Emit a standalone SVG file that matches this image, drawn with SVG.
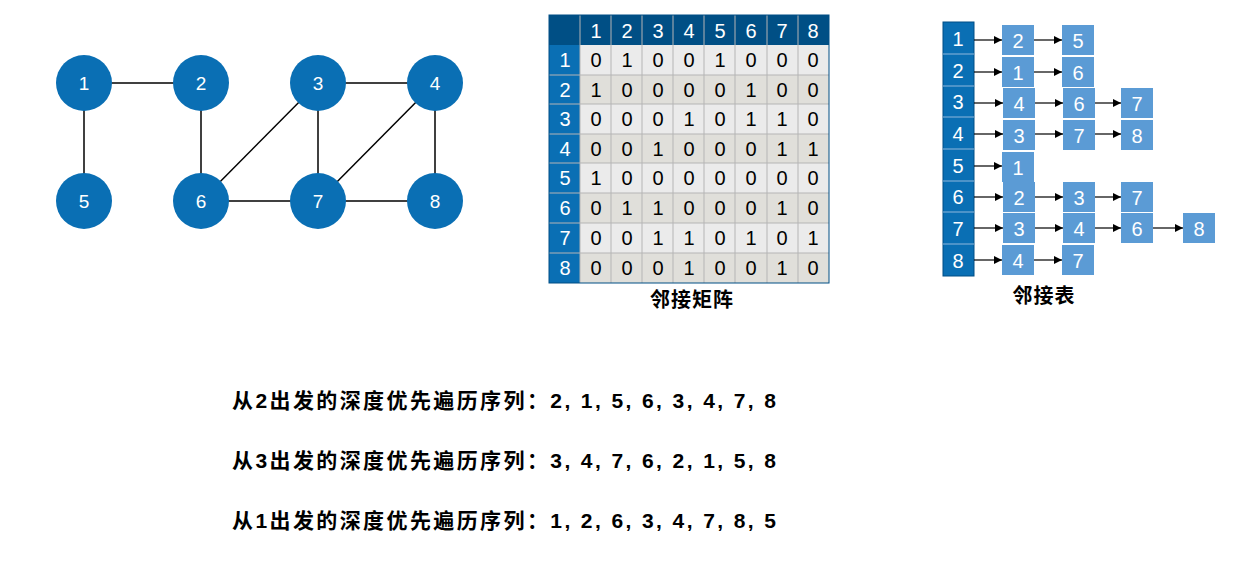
<svg xmlns="http://www.w3.org/2000/svg" width="1234" height="568" viewBox="0 0 1234 568">
<style>
.n circle{fill:#0a6fb4}
.nt{font-family:"Liberation Sans",Arial,sans-serif;font-size:19px;fill:#fff;text-anchor:middle}
.e line{stroke:#000;stroke-width:1.5}
.ct{font-family:"Liberation Sans",Arial,sans-serif;font-size:20px;fill:#000;text-anchor:middle}
.ht{font-family:"Liberation Sans",Arial,sans-serif;font-size:20px;fill:#fff;text-anchor:middle}
.cap{font-family:"Liberation Sans","Noto Sans CJK SC",sans-serif;font-size:20px;font-weight:bold;text-anchor:middle;letter-spacing:1px}
.seq{font-family:"Liberation Sans","Noto Sans CJK SC",sans-serif;font-size:21px;font-weight:bold}
.lb{fill:#5b9bd5}
.a line{stroke:#000;stroke-width:1.2;marker-end:url(#ar)}
</style>
<defs><marker id="ar" viewBox="0 0 10 10" refX="10" refY="5" markerWidth="8" markerHeight="8" markerUnits="userSpaceOnUse" orient="auto"><path d="M0,0L10,5L0,10z"/></marker></defs>
<g class="e">
<line x1="84" y1="83" x2="201" y2="83"/><line x1="84" y1="83" x2="84" y2="201"/><line x1="201" y1="83" x2="201" y2="201"/>
<line x1="318" y1="83" x2="435" y2="83"/><line x1="318" y1="83" x2="201" y2="201"/><line x1="318" y1="83" x2="318" y2="201"/>
<line x1="435" y1="83" x2="318" y2="201"/><line x1="435" y1="83" x2="435" y2="201"/><line x1="201" y1="201" x2="318" y2="201"/><line x1="318" y1="201" x2="435" y2="201"/>
</g>
<g class="n" id="n1"><circle cx="84" cy="83" r="28"/><text class="nt" x="84" y="90">1</text></g>
<g class="n" id="n2"><circle cx="201" cy="83" r="28"/><text class="nt" x="201" y="90">2</text></g>
<g class="n" id="n3"><circle cx="318" cy="83" r="28"/><text class="nt" x="318" y="90">3</text></g>
<g class="n" id="n4"><circle cx="435" cy="83" r="28"/><text class="nt" x="435" y="90">4</text></g>
<g class="n" id="n5"><circle cx="84" cy="201" r="28"/><text class="nt" x="84" y="208">5</text></g>
<g class="n" id="n6"><circle cx="201" cy="201" r="28"/><text class="nt" x="201" y="208">6</text></g>
<g class="n" id="n7"><circle cx="318" cy="201" r="28"/><text class="nt" x="318" y="208">7</text></g>
<g class="n" id="n8"><circle cx="435" cy="201" r="28"/><text class="nt" x="435" y="208">8</text></g>

<g id="matrix">
<rect x="549" y="15" width="280" height="30" fill="#004f85"/>
<rect x="549" y="45" width="31" height="238" fill="#0a6fb4"/>
<rect x="580" y="45" width="249" height="30" fill="#ebebeb"/><rect x="580" y="75" width="249" height="29" fill="#e0dfda"/>
<rect x="580" y="104" width="249" height="30" fill="#ebebeb"/><rect x="580" y="134" width="249" height="29" fill="#e0dfda"/>
<rect x="580" y="163" width="249" height="30" fill="#ebebeb"/><rect x="580" y="193" width="249" height="30" fill="#e0dfda"/>
<rect x="580" y="223" width="249" height="30" fill="#ebebeb"/><rect x="580" y="253" width="249" height="30" fill="#e0dfda"/>
<g stroke="#b5b5b5" stroke-width="1">
<line x1="611" y1="15" x2="611" y2="283"/><line x1="642" y1="15" x2="642" y2="283"/><line x1="673" y1="15" x2="673" y2="283"/><line x1="704" y1="15" x2="704" y2="283"/><line x1="735" y1="15" x2="735" y2="283"/><line x1="767" y1="15" x2="767" y2="283"/><line x1="798" y1="15" x2="798" y2="283"/><line x1="580" y1="15" x2="580" y2="283"/>
<line x1="549" y1="75" x2="829" y2="75"/><line x1="549" y1="104" x2="829" y2="104"/><line x1="549" y1="134" x2="829" y2="134"/><line x1="549" y1="163" x2="829" y2="163"/><line x1="549" y1="193" x2="829" y2="193"/><line x1="549" y1="223" x2="829" y2="223"/><line x1="549" y1="253" x2="829" y2="253"/>
</g>
<rect x="549" y="15" width="280" height="268" fill="none" stroke="#004f85" stroke-width="1"/>
<g class="ht"><text x="596" y="38">1</text><text x="627" y="38">2</text><text x="658" y="38">3</text><text x="689" y="38">4</text><text x="720" y="38">5</text><text x="751" y="38">6</text><text x="782" y="38">7</text><text x="813" y="38">8</text>
<text x="565" y="67">1</text><text x="565" y="97">2</text><text x="565" y="126">3</text><text x="565" y="156">4</text><text x="565" y="185">5</text><text x="565" y="215">6</text><text x="565" y="245">7</text><text x="565" y="275">8</text></g>
<g class="ct">
<text y="67"><tspan x="596">0</tspan><tspan x="627">1</tspan><tspan x="658">0</tspan><tspan x="689">0</tspan><tspan x="720">1</tspan><tspan x="751">0</tspan><tspan x="782">0</tspan><tspan x="813">0</tspan></text>
<text y="97"><tspan x="596">1</tspan><tspan x="627">0</tspan><tspan x="658">0</tspan><tspan x="689">0</tspan><tspan x="720">0</tspan><tspan x="751">1</tspan><tspan x="782">0</tspan><tspan x="813">0</tspan></text>
<text y="126"><tspan x="596">0</tspan><tspan x="627">0</tspan><tspan x="658">0</tspan><tspan x="689">1</tspan><tspan x="720">0</tspan><tspan x="751">1</tspan><tspan x="782">1</tspan><tspan x="813">0</tspan></text>
<text y="156"><tspan x="596">0</tspan><tspan x="627">0</tspan><tspan x="658">1</tspan><tspan x="689">0</tspan><tspan x="720">0</tspan><tspan x="751">0</tspan><tspan x="782">1</tspan><tspan x="813">1</tspan></text>
<text y="185"><tspan x="596">1</tspan><tspan x="627">0</tspan><tspan x="658">0</tspan><tspan x="689">0</tspan><tspan x="720">0</tspan><tspan x="751">0</tspan><tspan x="782">0</tspan><tspan x="813">0</tspan></text>
<text y="215"><tspan x="596">0</tspan><tspan x="627">1</tspan><tspan x="658">1</tspan><tspan x="689">0</tspan><tspan x="720">0</tspan><tspan x="751">0</tspan><tspan x="782">1</tspan><tspan x="813">0</tspan></text>
<text y="245"><tspan x="596">0</tspan><tspan x="627">0</tspan><tspan x="658">1</tspan><tspan x="689">1</tspan><tspan x="720">0</tspan><tspan x="751">1</tspan><tspan x="782">0</tspan><tspan x="813">1</tspan></text>
<text y="275"><tspan x="596">0</tspan><tspan x="627">0</tspan><tspan x="658">0</tspan><tspan x="689">1</tspan><tspan x="720">0</tspan><tspan x="751">0</tspan><tspan x="782">1</tspan><tspan x="813">0</tspan></text>
</g>
<text class="cap" x="692" y="307">邻接矩阵</text>
</g>

<g id="adjlist">
<rect x="943" y="22" width="31" height="254" fill="#0a6fb4" stroke="#004f85"/>
<g stroke="#8fb8dc"><line x1="943" y1="54" x2="974" y2="54"/><line x1="943" y1="86" x2="974" y2="86"/><line x1="943" y1="117" x2="974" y2="117"/><line x1="943" y1="149" x2="974" y2="149"/><line x1="943" y1="181" x2="974" y2="181"/><line x1="943" y1="212" x2="974" y2="212"/><line x1="943" y1="244" x2="974" y2="244"/></g>
<g class="ht"><text x="958" y="46">1</text><text x="958" y="78">2</text><text x="958" y="109">3</text><text x="958" y="141">4</text><text x="958" y="173">5</text><text x="958" y="204">6</text><text x="958" y="236">7</text><text x="958" y="268">8</text></g>
<g class="lb">
<rect x="1002" y="25" width="32" height="30"/><rect x="1062" y="25" width="32" height="30"/>
<rect x="1002" y="57" width="32" height="30"/><rect x="1062" y="57" width="32" height="30"/>
<rect x="1003" y="88" width="32" height="30"/><rect x="1063" y="88" width="32" height="30"/><rect x="1121" y="88" width="32" height="30"/>
<rect x="1003" y="120" width="32" height="30"/><rect x="1063" y="120" width="32" height="30"/><rect x="1121" y="120" width="32" height="30"/>
<rect x="1002" y="152" width="32" height="30"/>
<rect x="1003" y="182" width="32" height="30"/><rect x="1063" y="182" width="32" height="30"/><rect x="1121" y="182" width="32" height="30"/>
<rect x="1003" y="213" width="32" height="30"/><rect x="1063" y="213" width="32" height="30"/><rect x="1121" y="213" width="32" height="30"/><rect x="1183" y="213" width="32" height="30"/>
<rect x="1002" y="245" width="32" height="30"/><rect x="1062" y="245" width="32" height="30"/>
</g>
<g class="ht">
<text x="1018" y="48">2</text><text x="1078" y="48">5</text>
<text x="1018" y="80">1</text><text x="1078" y="80">6</text>
<text x="1019" y="111">4</text><text x="1079" y="111">6</text><text x="1137" y="111">7</text>
<text x="1019" y="143">3</text><text x="1079" y="143">7</text><text x="1137" y="143">8</text>
<text x="1018" y="175">1</text>
<text x="1019" y="205">2</text><text x="1079" y="205">3</text><text x="1137" y="205">7</text>
<text x="1019" y="236">3</text><text x="1079" y="236">4</text><text x="1137" y="236">6</text><text x="1199" y="236">8</text>
<text x="1018" y="268">4</text><text x="1078" y="268">7</text>
</g>
<text class="cap" x="1044" y="303">邻接表</text>
</g>

<g class="a" id="connectors">
<line x1="974" y1="40" x2="1002" y2="40"/><line x1="1034" y1="40" x2="1062" y2="40"/>
<line x1="974" y1="72" x2="1002" y2="72"/><line x1="1034" y1="72" x2="1062" y2="72"/>
<line x1="974" y1="103" x2="1003" y2="103"/><line x1="1035" y1="103" x2="1063" y2="103"/><line x1="1095" y1="103" x2="1121" y2="103"/>
<line x1="974" y1="134" x2="1003" y2="134"/><line x1="1035" y1="134" x2="1063" y2="134"/><line x1="1095" y1="134" x2="1121" y2="134"/>
<line x1="974" y1="166" x2="1002" y2="166"/>
<line x1="974" y1="197" x2="1003" y2="197"/><line x1="1035" y1="197" x2="1063" y2="197"/><line x1="1095" y1="197" x2="1121" y2="197"/>
<line x1="974" y1="228" x2="1003" y2="228"/><line x1="1035" y1="228" x2="1063" y2="228"/><line x1="1095" y1="228" x2="1121" y2="228"/><line x1="1153" y1="228" x2="1183" y2="228"/>
<line x1="974" y1="260" x2="1002" y2="260"/><line x1="1034" y1="260" x2="1062" y2="260"/>
</g>

<text class="seq" x="232" y="408" textLength="544" lengthAdjust="spacing">从2出发的深度优先遍历序列：2, 1, 5, 6, 3, 4, 7, 8</text>
<text class="seq" x="232" y="468" textLength="544" lengthAdjust="spacing">从3出发的深度优先遍历序列：3, 4, 7, 6, 2, 1, 5, 8</text>
<text class="seq" x="232" y="528" textLength="544" lengthAdjust="spacing">从1出发的深度优先遍历序列：1, 2, 6, 3, 4, 7, 8, 5</text>
</svg>
